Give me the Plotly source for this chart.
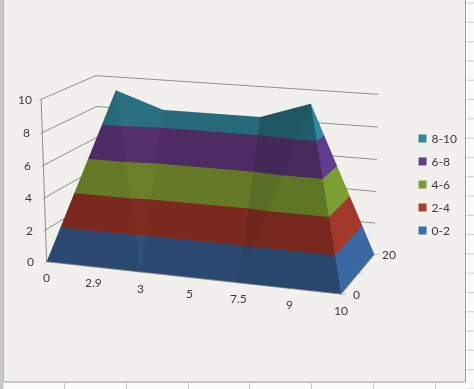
import plotly.graph_objects as go

x_labels = ["0", "2.9", "3", "5", "7.5", "9", "10"]
y_values = [0, 10, 20]
y_labels = ["0", "", "20"]
z_ticks = [0, 2, 4, 6, 8, 10]
z_front = [0, 0, 0, 0, 0, 0, 0]
z_ridge = [0, 10, 9, 9, 9, 10, 0]
z_back = [0, 0, 0, 0, 0, 0, 0]
band_names = ["8-10", "6-8", "4-6", "2-4", "0-2"]
band_lows = [8, 6, 4, 2, 0]
legend_colors = ["#31859c", "#5f3f85", "#7d9a35", "#b03a2e", "#3f6ca8"]
front_colors = ["#276a7a", "#4e2c63", "#657926", "#7b281e", "#2b4871"]
front_right_colors = ["#215d68", "#47295c", "#5f7625", "#77281e", "#29466c"]
right_colors = ["#2d8aa1", "#5f3d8c", "#7d9e33", "#a3382c", "#3c68a1"]
sliver_colors = ["#2a7082", "#53306a", "#6b7f28", "#802b20", "#2f5179"]
dark_colors = ["#1e5661", "#432858", "#596d26", "#70261b", "#284366"]

nx = len(x_labels)
rows = [z_front, z_ridge, z_back]
V = lambda i, r: (i, y_values[r], rows[r][i])

tris = []
for i in range(nx - 1):
    f0, f1, r0, r1 = V(i, 0), V(i + 1, 0), V(i, 1), V(i + 1, 1)
    if i == 1:
        tris += [(f1, r0, r1, "sliver"), (f0, f1, r0, "front")]
    elif i == 4:
        tris += [(f0, r0, r1, "dark"), (f0, f1, r1, "front_right")]
    elif i == 5:
        tris += [(f0, f1, r0, "front_right"), (f1, r0, r1, "right")]
    elif i == 0:
        tris += [(f0, f1, r1, "front"), (f0, r0, r1, "front")]
    else:
        tris += [(f0, f1, r0, "front"), (f1, r0, r1, "front")]
    b0, b1 = V(i, 2), V(i + 1, 2)
    tris += [(r0, r1, b1, "right" if i == 5 else "front"), (r0, b0, b1, "front")]


def clip(poly, lo, hi):
    def cut(p, keep, at):
        out = []
        for a, b in zip(p, p[1:] + p[:1]):
            ka, kb = keep(a[2]), keep(b[2])
            if ka:
                out.append(a)
            if ka != kb:
                t = (at - a[2]) / (b[2] - a[2])
                out.append(tuple(a[k] + t * (b[k] - a[k]) for k in range(3)))
        return out
    p = cut(list(poly), lambda z: z >= lo, lo)
    if p:
        p = cut(p, lambda z: z <= hi, hi)
    return p


fig = go.Figure()
for name, lo, lc, fc, frc, rc, sc, dc in zip(band_names, band_lows, legend_colors, front_colors, front_right_colors,
                                             right_colors, sliver_colors, dark_colors):
    shade = {"front": fc, "front_right": frc, "right": rc, "sliver": sc, "dark": dc}
    X, Y, Z, I, J, K, C = [], [], [], [], [], [], []
    for a, b, c, tag in tris:
        p = clip((a, b, c), lo, lo + 2)
        if len(p) < 3:
            continue
        n = len(X)
        for q in p:
            X.append(q[0]); Y.append(q[1]); Z.append(q[2])
        for m in range(1, len(p) - 1):
            I.append(n); J.append(n + m); K.append(n + m + 1); C.append(shade[tag])
    fig.add_trace(go.Mesh3d(x=X, y=Y, z=Z, i=I, j=J, k=K, facecolor=C, flatshading=True,
                            lighting=dict(ambient=1, diffuse=0, specular=0, roughness=1, fresnel=0),
                            hoverinfo="skip", showlegend=False))
    fig.add_trace(go.Scatter(x=[None], y=[None], mode="markers", name=name, legendgroup=name,
                             marker=dict(symbol="square", size=8, color=lc)))

# The page is 474x389; the figure is larger and cropped so the 3D view has a long lens.
Wf, Hf = 1515, 1243
left, top = 230 - Wf / 2, 194.5 - Hf / 2
px = lambda v: (v - left) / Wf
py = lambda v: 1 - (v - top) / Hf

shapes = [dict(type="rect", xref="paper", yref="paper", x0=px(3), x1=px(465), y0=py(382), y1=py(-5),
               fillcolor="#f2f0ed", line=dict(color="#9a9a9a", width=1), layer="below"),
          dict(type="rect", xref="paper", yref="paper", x0=px(-5), x1=px(3), y0=py(395), y1=py(-5),
               fillcolor="#c9c9cb", line=dict(width=0), layer="below")]
for gx in [64, 126, 188, 249, 311, 373, 435]:
    shapes.append(dict(type="line", xref="paper", yref="paper", x0=px(gx), x1=px(gx), y0=py(382), y1=py(395),
                       line=dict(color="#c8c8c8", width=1), layer="below"))
for k in range(21):
    gy = 3 + k * 19.3
    shapes.append(dict(type="line", xref="paper", yref="paper", x0=px(466), x1=px(480), y0=py(gy), y1=py(gy),
                       line=dict(color="#cfcfcf", width=1), layer="below"))

label_font = dict(family="Lato, Open Sans", size=12, color="#3a3a3a")
annotations = []
for i, t in enumerate(x_labels):
    annotations.append(dict(x=i, y=y_values[0], z=0, text=t, showarrow=False, yshift=-16, font=label_font))
for v, t in zip(y_values, y_labels):
    if t:
        annotations.append(dict(x=nx - 1, y=v, z=0, text=t, showarrow=False, xshift=15, font=label_font))
for v in z_ticks:
    annotations.append(dict(x=0, y=y_values[0], z=v, text=str(v), showarrow=False, xshift=-16, font=label_font))

axis_common = dict(showbackground=False, showspikes=False, title="", zeroline=False, showticklabels=False,
                   showline=True, linecolor="#8a8a8a", linewidth=2,
                   ticks="outside", ticklen=4, tickcolor="#8a8a8a")
fig.update_layout(
    width=Wf, height=Hf, margin=dict(l=0, r=0, t=0, b=0), autosize=False,
    paper_bgcolor="#fbfbfb", plot_bgcolor="rgba(0,0,0,0)", shapes=shapes, hovermode=False,
    xaxis=dict(visible=False), yaxis=dict(visible=False),
    legend=dict(x=px(391), y=py(124), xanchor="left", yanchor="top", bgcolor="rgba(0,0,0,0)", tracegroupgap=4,
                font=dict(family="Lato, Open Sans", size=12, color="#3a3a3a"), itemwidth=30),
    scene=dict(
        domain=dict(x=[0, 1], y=[0, 1]),
        aspectmode="manual", aspectratio=dict(x=1, y=0.4292, z=0.5442),
        camera=dict(eye=dict(x=1.6033, y=-4.4647, z=1.2392), center=dict(x=0.0697, y=-0.0115, z=-0.0447),
                    up=dict(x=-0.0028, y=-0.0041, z=1), projection=dict(type="perspective")),
        annotations=annotations,
        xaxis=dict(axis_common, range=[0, 6], tickmode="array", tickvals=list(range(nx)), showgrid=False),
        yaxis=dict(axis_common, range=[0, 20], tickmode="array", tickvals=y_values, showgrid=False),
        zaxis=dict(axis_common, range=[0, 10], tickmode="array", tickvals=z_ticks, showgrid=True,
                   gridcolor="#8f8f8f", gridwidth=2),
    ),
)
post = ("var gd=document.getElementById('{plot_id}');gd.style.position='absolute';"
        f"gd.style.left='{left}px';gd.style.top='{top}px';"
        "document.body.style.margin='0';document.body.style.overflow='hidden';"
        "document.documentElement.style.overflow='hidden';"
        "document.querySelectorAll('.legendsymbols').forEach(function(e){e.setAttribute('transform','translate(11,0)');});")
fig.write_html("out.html", post_script=post, config={"displayModeBar": False})
